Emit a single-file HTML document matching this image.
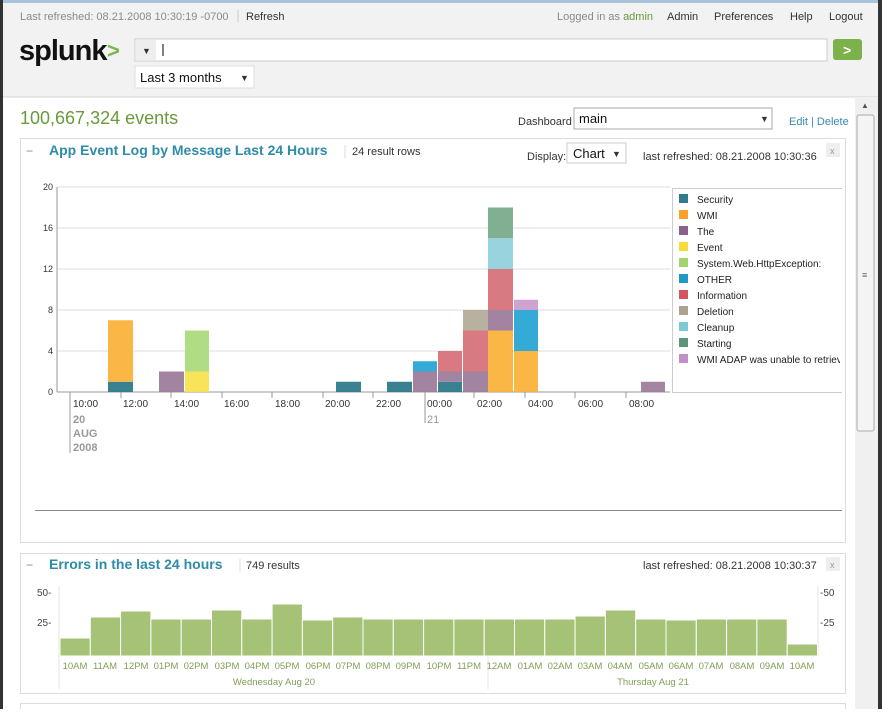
<!DOCTYPE html>
<html><head><meta charset="utf-8"><style>
body{margin:0;width:882px;height:709px;overflow:hidden;background:#fff}
text{font-family:"Liberation Sans",sans-serif}
</style></head><body>
<svg width="882" height="709" xmlns="http://www.w3.org/2000/svg" font-family="Liberation Sans, sans-serif">
<rect width="882" height="709" fill="#fff"/>
<!-- header -->
<rect x="0" y="0" width="882" height="97" fill="#f2f2f2"/>
<rect x="0" y="0" width="882" height="3" fill="#a9c2dc"/>
<line x1="0" y1="97" x2="882" y2="97" stroke="#d4d4d4"/>
<text x="20" y="20" font-size="11" fill="#8a8a8a">Last refreshed: 08.21.2008 10:30:19 -0700</text>
<line x1="238" y1="10" x2="238" y2="22" stroke="#ccc"/>
<text x="246" y="20" font-size="11" fill="#333">Refresh</text>
<text x="557" y="20" font-size="11" fill="#8a8a8a">Logged in as <tspan fill="#6a9a3a">admin</tspan></text>
<text x="667" y="20" font-size="11" fill="#333">Admin</text>
<text x="714" y="20" font-size="11" fill="#333">Preferences</text>
<text x="790" y="20" font-size="11" fill="#333">Help</text>
<text x="829" y="20" font-size="11" fill="#333">Logout</text>
<text x="19" y="60" font-size="29" font-weight="bold" fill="#111" letter-spacing="-1">splunk</text>
<text x="107" y="58" font-size="22" font-weight="bold" fill="#7bb84a">&gt;</text>
<rect x="135" y="39" width="692" height="22" fill="#fff" stroke="#ccc"/>
<rect x="136" y="40" width="20" height="20" fill="#eee"/>
<text x="142" y="54" font-size="9" fill="#333">▼</text>
<line x1="163" y1="44" x2="163" y2="56" stroke="#000"/>
<rect x="833" y="39" width="29" height="21" rx="3" fill="#7cb249"/>
<text x="843" y="55" font-size="14" font-weight="bold" fill="#fff">&gt;</text>
<rect x="135" y="66" width="119" height="22" fill="#fff" stroke="#ddd"/>
<text x="140" y="82" font-size="13" fill="#111">Last 3 months</text>
<text x="240" y="81" font-size="9" fill="#333">▼</text>
<!-- scrollbar -->
<rect x="855" y="97" width="23" height="612" fill="#f0f0f0"/>
<rect x="857" y="115" width="17" height="316" rx="2" fill="#f4f4f4" stroke="#aaa"/>
<text x="861" y="108" font-size="8" fill="#555">▲</text>
<text x="862" y="278" font-size="9" fill="#666">≡</text>
<rect x="0" y="0" width="3" height="709" fill="#333"/>
<rect x="878" y="0" width="4" height="709" fill="#333"/>
<!-- events -->
<text x="20" y="124" font-size="18" fill="#6a9a3a">100,667,324 events</text>
<text x="518" y="125" font-size="11" fill="#333">Dashboard</text>
<rect x="574" y="108" width="198" height="21" fill="#fff" stroke="#aaa"/>
<text x="579" y="123" font-size="13" fill="#111">main</text>
<text x="760" y="122" font-size="9" fill="#333">▼</text>
<text x="789" y="125" font-size="11" fill="#3a8ab0">Edit | Delete</text>
<!-- panel 1 -->
<rect x="20.5" y="138.5" width="825" height="404" fill="#fff" stroke="#ddd"/>
<text x="26" y="155" font-size="12" fill="#888">−</text>
<text x="49" y="155" font-size="14" font-weight="bold" fill="#2e8ca8">App Event Log by Message Last 24 Hours</text>
<line x1="345" y1="145" x2="345" y2="158" stroke="#ddd"/>
<text x="352" y="155" font-size="11" fill="#333">24 result rows</text>
<text x="527" y="160" font-size="11" fill="#333">Display:</text>
<rect x="567" y="143" width="59" height="20" fill="#fff" stroke="#ccc"/>
<text x="573" y="158" font-size="13" fill="#111">Chart</text>
<text x="612" y="157" font-size="9" fill="#333">▼</text>
<text x="643" y="160" font-size="11" fill="#333">last refreshed: 08.21.2008 10:30:36</text>
<rect x="826" y="143" width="14" height="14" fill="#eee"/>
<text x="830" y="154" font-size="9" fill="#999">x</text>
<!-- chart grid -->
<g stroke="#ddd">
<line x1="57" y1="187" x2="670" y2="187"/><line x1="57" y1="228" x2="670" y2="228"/>
<line x1="57" y1="269" x2="670" y2="269"/><line x1="57" y1="310" x2="670" y2="310"/>
<line x1="57" y1="351" x2="670" y2="351"/>
</g>
<line x1="57" y1="187" x2="57" y2="392" stroke="#999"/>
<line x1="57" y1="392" x2="670" y2="392" stroke="#999"/>
<g font-size="9" fill="#333" text-anchor="end">
<text x="53" y="190">20</text><text x="53" y="231">16</text><text x="53" y="272">12</text>
<text x="53" y="313">8</text><text x="53" y="354">4</text><text x="53" y="395">0</text>
</g>
<!-- bars: y = 392 - v*10.25 -->
<g opacity="0.95">
<rect x="108" y="381.75" width="25" height="10.25" fill="#2f7a8c"/>
<rect x="108" y="320.25" width="25" height="61.5" fill="#fbb43c"/>
<rect x="159" y="371.5" width="25" height="20.5" fill="#9e7d9c"/>
<rect x="185" y="371.5" width="24" height="20.5" fill="#f9e250"/>
<rect x="185" y="330.5" width="24" height="41" fill="#addb80"/>
<rect x="336" y="381.75" width="25" height="10.25" fill="#2f7a8c"/>
<rect x="387" y="381.75" width="25" height="10.25" fill="#2f7a8c"/>
<rect x="413" y="371.5" width="24" height="20.5" fill="#9e7d9c"/>
<rect x="413" y="361.25" width="24" height="10.25" fill="#2aa7d4"/>
<rect x="438" y="381.75" width="24" height="10.25" fill="#2f7a8c"/>
<rect x="438" y="371.5" width="24" height="10.25" fill="#9e7d9c"/>
<rect x="438" y="351" width="24" height="20.5" fill="#d7737c"/>
<rect x="463" y="371.5" width="25" height="20.5" fill="#9e7d9c"/>
<rect x="463" y="330.5" width="25" height="41" fill="#d7737c"/>
<rect x="463" y="310" width="25" height="20.5" fill="#b6ad9a"/>
<rect x="488" y="330.5" width="25" height="61.5" fill="#fbb43c"/>
<rect x="488" y="310" width="25" height="20.5" fill="#9e7d9c"/>
<rect x="488" y="269" width="25" height="41" fill="#d7737c"/>
<rect x="488" y="238.25" width="25" height="30.75" fill="#93d2dd"/>
<rect x="488" y="207.5" width="25" height="30.75" fill="#7aab8c"/>
<rect x="514" y="351" width="24" height="41" fill="#fbb43c"/>
<rect x="514" y="310" width="24" height="41" fill="#2aa7d4"/>
<rect x="514" y="299.75" width="24" height="10.25" fill="#cc9fd0"/>
<rect x="641" y="381.75" width="24" height="10.25" fill="#9e7d9c"/>
</g>
<!-- x ticks -->
<g stroke="#999">
<line x1="70" y1="392" x2="70" y2="453"/><line x1="121" y1="392" x2="121" y2="398"/>
<line x1="171" y1="392" x2="171" y2="398"/><line x1="222" y1="392" x2="222" y2="398"/>
<line x1="272" y1="392" x2="272" y2="398"/><line x1="323" y1="392" x2="323" y2="398"/>
<line x1="373" y1="392" x2="373" y2="398"/><line x1="425" y1="392" x2="425" y2="423"/>
<line x1="474" y1="392" x2="474" y2="398"/><line x1="525" y1="392" x2="525" y2="398"/>
<line x1="575" y1="392" x2="575" y2="398"/><line x1="626" y1="392" x2="626" y2="398"/>
</g>
<g font-size="10" fill="#333">
<text x="73" y="407">10:00</text><text x="123" y="407">12:00</text><text x="174" y="407">14:00</text>
<text x="224" y="407">16:00</text><text x="275" y="407">18:00</text><text x="325" y="407">20:00</text>
<text x="376" y="407">22:00</text><text x="427" y="407">00:00</text><text x="477" y="407">02:00</text>
<text x="528" y="407">04:00</text><text x="578" y="407">06:00</text><text x="629" y="407">08:00</text>
</g>
<g font-size="11" font-weight="bold" fill="#999">
<text x="73" y="423">20</text><text x="73" y="437">AUG</text><text x="73" y="451">2008</text>
<text x="427" y="423" font-weight="normal">21</text>
</g>
<!-- legend -->
<rect x="672.5" y="188.5" width="169" height="204" fill="#fff" stroke="#ccc"/>
<g font-size="10" fill="#222">
<rect x="679" y="194" width="9" height="9" fill="#2f7a8c"/><text x="697" y="203">Security</text>
<rect x="679" y="210" width="9" height="9" fill="#f9a12b"/><text x="697" y="219">WMI</text>
<rect x="679" y="226" width="9" height="9" fill="#8a6189"/><text x="697" y="235">The</text>
<rect x="679" y="242" width="9" height="9" fill="#f5dc3c"/><text x="697" y="251">Event</text>
<rect x="679" y="258" width="9" height="9" fill="#a2d36f"/><text x="697" y="267">System.Web.HttpException:</text>
<rect x="679" y="274" width="9" height="9" fill="#2596c8"/><text x="697" y="283">OTHER</text>
<rect x="679" y="290" width="9" height="9" fill="#d35560"/><text x="697" y="299">Information</text>
<rect x="679" y="306" width="9" height="9" fill="#aca48e"/><text x="697" y="315">Deletion</text>
<rect x="679" y="322" width="9" height="9" fill="#7cc9d6"/><text x="697" y="331">Cleanup</text>
<rect x="679" y="338" width="9" height="9" fill="#5e957a"/><text x="697" y="347">Starting</text>
<rect x="679" y="354" width="9" height="9" fill="#c08fcc"/><text x="697" y="363">WMI ADAP was unable to retriev</text>
</g>
<rect x="840" y="189" width="2" height="203" fill="#fff"/>
<line x1="35" y1="510.5" x2="842" y2="510.5" stroke="#888"/>
<!-- panel 2 -->
<rect x="20.5" y="553.5" width="825" height="140" fill="#fff" stroke="#ddd"/>
<text x="26" y="569" font-size="12" fill="#888">−</text>
<text x="49" y="569" font-size="14" font-weight="bold" fill="#2e8ca8">Errors in the last 24 hours</text>
<line x1="240" y1="559" x2="240" y2="572" stroke="#ddd"/>
<text x="246" y="569" font-size="11" fill="#333">749 results</text>
<text x="643" y="569" font-size="11" fill="#333">last refreshed: 08.21.2008 10:30:37</text>
<rect x="826" y="557" width="14" height="14" fill="#eee"/>
<text x="830" y="568" font-size="9" fill="#999">x</text>
<line x1="59" y1="586" x2="59" y2="689" stroke="#e4e4e4"/>
<line x1="818" y1="586" x2="818" y2="656" stroke="#e4e4e4"/>
<line x1="488" y1="656" x2="488" y2="689" stroke="#e4e4e4"/>
<g font-size="10" fill="#444">
<text x="37" y="596">50-</text><text x="37" y="626">25-</text>
<text x="820" y="596">-50</text><text x="820" y="626">-25</text>
</g>
<g fill="#a5c277" stroke="#fff" stroke-width="1">
<rect x="60" y="638" width="30.3" height="18"/>
<rect x="90.3" y="617" width="30.3" height="39"/>
<rect x="120.6" y="611" width="30.3" height="45"/>
<rect x="150.9" y="619" width="30.3" height="37"/>
<rect x="181.2" y="619" width="30.3" height="37"/>
<rect x="211.5" y="610" width="30.3" height="46"/>
<rect x="241.8" y="619" width="30.3" height="37"/>
<rect x="272.1" y="604" width="30.3" height="52"/>
<rect x="302.4" y="620" width="30.3" height="36"/>
<rect x="332.7" y="617" width="30.3" height="39"/>
<rect x="363" y="619" width="30.3" height="37"/>
<rect x="393.3" y="619" width="30.3" height="37"/>
<rect x="423.6" y="619" width="30.3" height="37"/>
<rect x="453.9" y="619" width="30.3" height="37"/>
<rect x="484.2" y="619" width="30.3" height="37"/>
<rect x="514.5" y="619" width="30.3" height="37"/>
<rect x="544.8" y="619" width="30.3" height="37"/>
<rect x="575.1" y="616" width="30.3" height="40"/>
<rect x="605.4" y="610" width="30.3" height="46"/>
<rect x="635.7" y="619" width="30.3" height="37"/>
<rect x="666" y="620" width="30.3" height="36"/>
<rect x="696.3" y="619" width="30.3" height="37"/>
<rect x="726.6" y="619" width="30.3" height="37"/>
<rect x="756.9" y="619" width="30.3" height="37"/>
<rect x="787.2" y="644" width="30.3" height="12"/>
</g>
<g font-size="9.5" fill="#7fa055" text-anchor="middle">
<text x="75" y="669">10AM</text><text x="105" y="669">11AM</text><text x="136" y="669">12PM</text>
<text x="166" y="669">01PM</text><text x="196" y="669">02PM</text><text x="227" y="669">03PM</text>
<text x="257" y="669">04PM</text><text x="287" y="669">05PM</text><text x="318" y="669">06PM</text>
<text x="348" y="669">07PM</text><text x="378" y="669">08PM</text><text x="408" y="669">09PM</text>
<text x="439" y="669">10PM</text><text x="469" y="669">11PM</text><text x="499" y="669">12AM</text>
<text x="530" y="669">01AM</text><text x="560" y="669">02AM</text><text x="590" y="669">03AM</text>
<text x="620" y="669">04AM</text><text x="651" y="669">05AM</text><text x="681" y="669">06AM</text>
<text x="711" y="669">07AM</text><text x="742" y="669">08AM</text><text x="772" y="669">09AM</text>
<text x="802" y="669">10AM</text>
<text x="274" y="685">Wednesday Aug 20</text><text x="653" y="685">Thursday Aug 21</text>
</g>
<rect x="20.5" y="703.5" width="825" height="10" fill="#fff" stroke="#ddd"/>
</svg>
</body></html>
